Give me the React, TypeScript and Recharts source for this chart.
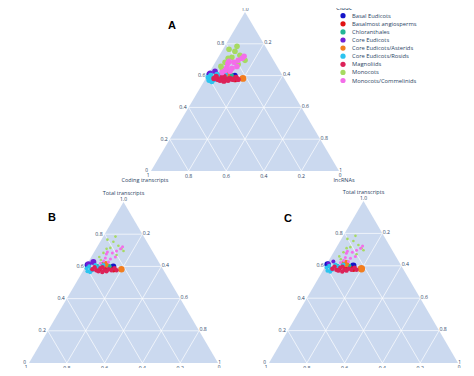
import { ComposedChart, Area, Scatter, XAxis, YAxis, ReferenceLine } from 'recharts'

type Tri = [number, number, number] // [total, coding, lncRNA]

const CLADES = [
  'Basal Eudicots',
  'Basalmost angiosperms',
  'Chloranthales',
  'Core Eudicots',
  'Core Eudicots/Asterids',
  'Core Eudicots/Rosids',
  'Magnoliids',
  'Monocots',
  'Monocots/Commelinids',
]

const basalEudicots: Tri[] = [
  [0.6, 0.254, 0.146],
  [0.608, 0.386, 0.006],
]
const basalmostAngiosperms: Tri[] = [
  [0.582, 0.337, 0.081],
  [0.582, 0.305, 0.113],
  [0.589, 0.274, 0.137],
  [0.576, 0.265, 0.159],
]
const chloranthales: Tri[] = [
  [0.614, 0.305, 0.081],
  [0.608, 0.286, 0.106],
  [0.601, 0.274, 0.125],
  [0.601, 0.338, 0.061],
]
const coreEudicots: Tri[] = [
  [0.627, 0.346, 0.027],
  [0.614, 0.379, 0.007],
]
const asterids: Tri[] = [
  [0.582, 0.22, 0.198],
  [0.614, 0.289, 0.097],
]
const rosids: Tri[] = [
  [0.589, 0.401, 0.01],
  [0.57, 0.406, 0.024],
  [0.601, 0.381, 0.018],
  [0.576, 0.377, 0.047],
  [0.608, 0.345, 0.047],
  [0.595, 0.335, 0.07],
  [0.563, 0.395, 0.042],
  [0.608, 0.302, 0.09],
  [0.583, 0.382, 0.035],
]
const magnoliids: Tri[] = [
  [0.582, 0.374, 0.044],
  [0.576, 0.356, 0.068],
  [0.589, 0.328, 0.083],
  [0.576, 0.313, 0.111],
  [0.582, 0.289, 0.129],
  [0.576, 0.276, 0.148],
  [0.589, 0.253, 0.158],
  [0.57, 0.348, 0.082],
  [0.595, 0.314, 0.091],
  [0.57, 0.305, 0.125],
  [0.595, 0.356, 0.049],
  [0.576, 0.249, 0.175],
  [0.565, 0.33, 0.105],
]
const monocots: Tri[] = [
  [0.785, 0.15, 0.065],
  [0.753, 0.177, 0.07],
  [0.728, 0.163, 0.109],
  [0.715, 0.212, 0.073],
  [0.709, 0.235, 0.056],
  [0.709, 0.156, 0.135],
  [0.684, 0.264, 0.052],
  [0.696, 0.152, 0.152],
  [0.658, 0.299, 0.043],
  [0.671, 0.201, 0.128],
  [0.766, 0.202, 0.032],
  [0.64, 0.3, 0.06],
]
const commelinids: Tri[] = [
  [0.677, 0.252, 0.071],
  [0.684, 0.217, 0.099],
  [0.696, 0.189, 0.115],
  [0.709, 0.161, 0.13],
  [0.652, 0.27, 0.078],
  [0.646, 0.246, 0.108],
  [0.658, 0.214, 0.128],
  [0.633, 0.289, 0.078],
  [0.627, 0.266, 0.107],
  [0.62, 0.312, 0.068],
  [0.722, 0.144, 0.134],
  [0.69, 0.24, 0.07],
]

const CLADE_POINTS = [
  basalEudicots,
  basalmostAngiosperms,
  chloranthales,
  coreEudicots,
  asterids,
  rosids,
  magnoliids,
  monocots,
  commelinids,
]

const TICKS = [0.2, 0.4, 0.6, 0.8]

const COLORS = ['#1414c8', '#e01212', '#22b596', '#6f1fd6', '#f27d1e', '#2cc4ef', '#dc2259', '#a6da62', '#f36ee9']
const TEXT = '#2a3f5f'
const FONT = '"Open Sans", sans-serif'
const BG = '#cbd9ef'

// marker radius per clade, per panel
const RADII: Record<string, number[]> = {
  A: [2.8, 2.8, 2.8, 2.8, 3.4, 2.7, 2.7, 2.8, 2.8],
  B: [3, 2.2, 2.2, 3, 3.2, 2, 2.2, 1.3, 1.5],
  C: [3.2, 2.2, 2, 2, 3.7, 2, 2.2, 1.3, 1.5],
}

const PANELS = [
  { id: 'A', left: 151, right: 339, base: 171, apex: 12, box: [118, 0, 362, 186], letter: [172, 25] },
  { id: 'B', left: 29, right: 218, base: 363, apex: 202, box: [0, 186, 240, 376], letter: [52, 217] },
  { id: 'C', left: 269, right: 458, base: 363, apex: 201, box: [240, 186, 474, 376], letter: [288, 218] },
]

const toXY = ([a, b, c]: Tri) => {
  const s = a + b + c
  return { x: (c + a / 2) / s, y: a / s }
}

const TRIANGLE = [
  { x: 0, y: 0 },
  { x: 0.5, y: 1 },
  { x: 1, y: 0 },
]

const fmt = (v: number) => v.toFixed(1)

type Label = { x: number; y: number; text: string; kind: string }

function buildLabels(): Label[] {
  const out: Label[] = []
  TICKS.forEach((k) => {
    out.push({ x: k / 2, y: k, text: fmt(k), kind: 'a' })
    out.push({ x: 1 - k, y: 0, text: fmt(k), kind: 'b' })
    out.push({ x: k + (1 - k) / 2, y: 1 - k, text: fmt(k), kind: 'c' })
  })
  out.push({ x: 0, y: 0, text: '0', kind: 'bl0' })
  out.push({ x: 0, y: 0, text: '1', kind: 'bl1' })
  out.push({ x: 1, y: 0, text: '1', kind: 'br1' })
  out.push({ x: 1, y: 0, text: '0', kind: 'br0' })
  out.push({ x: 0.5, y: 1, text: '1.0', kind: 'top' })
  out.push({ x: 0.5, y: 1, text: 'Total transcripts', kind: 'title' })
  out.push({ x: 0, y: 0, text: 'Coding transcripts', kind: 'coding' })
  out.push({ x: 1, y: 0, text: 'lncRNAs', kind: 'lnc' })
  return out
}

const LABELS = buildLabels()

const OFFSETS: Record<string, { dx: number; dy: number; anchor: string; size: number }> = {
  a: { dx: -2, dy: -0.5, anchor: 'end', size: 5.2 },
  b: { dx: 0, dy: 5, anchor: 'middle', size: 5.2 },
  c: { dx: 4, dy: -1.5, anchor: 'middle', size: 5.2 },
  bl0: { dx: -4.5, dy: -1.2, anchor: 'middle', size: 4.8 },
  bl1: { dx: -3, dy: 3.6, anchor: 'middle', size: 4.8 },
  br1: { dx: 1.5, dy: -1.2, anchor: 'middle', size: 4.8 },
  br0: { dx: 1, dy: 3.6, anchor: 'middle', size: 4.8 },
  top: { dx: 0, dy: -3, anchor: 'middle', size: 5 },
  title: { dx: 0, dy: -9.5, anchor: 'middle', size: 5.5 },
  coding: { dx: -6, dy: 9.3, anchor: 'middle', size: 5.5 },
  lnc: { dx: 5, dy: 9.3, anchor: 'middle', size: 5.5 },
}

function gridSegments() {
  const segs: { x: number; y: number }[][] = []
  TICKS.forEach((k) => {
    segs.push([{ x: k / 2, y: k }, { x: 1 - k / 2, y: k }])
    segs.push([{ x: k, y: 0 }, { x: k + (1 - k) / 2, y: 1 - k }])
    segs.push([{ x: 1 - k, y: 0 }, { x: (1 - k) / 2, y: 1 - k }])
  })
  return segs
}

const SEGMENTS = gridSegments()

function Panel({ p }: { p: (typeof PANELS)[number] }) {
  const [bx0, by0, bx1, by1] = p.box
  const w = p.right - p.left
  const h = p.base - p.apex
  const xDomain = [(bx0 - p.left) / w, (bx1 - p.left) / w]
  const yDomain = [(p.base - by1) / h, (p.base - by0) / h]
  const radii = RADII[p.id]

  return (
    <div style={{ position: 'absolute', left: bx0, top: by0 }}>
      <ComposedChart width={bx1 - bx0} height={by1 - by0} margin={{ top: 0, right: 0, bottom: 0, left: 0 }}>
        <XAxis type="number" dataKey="x" domain={xDomain} hide allowDataOverflow />
        <YAxis type="number" dataKey="y" domain={yDomain} hide allowDataOverflow />
        <Area
          data={TRIANGLE}
          dataKey="y"
          type="linear"
          fill={BG}
          fillOpacity={1}
          stroke="none"
          baseValue={0}
          isAnimationActive={false}
        />
        {SEGMENTS.map((s, i) => (
          <ReferenceLine key={i} segment={s} stroke="#ffffff" strokeWidth={0.8} strokeOpacity={0.85} />
        ))}
        <Scatter
          data={LABELS}
          isAnimationActive={false}
          shape={(props: any) => {
            const o = OFFSETS[props.payload.kind]
            return (
              <text
                x={props.cx + o.dx}
                y={props.cy + o.dy}
                textAnchor={o.anchor as any}
                dominantBaseline="central"
                fontSize={o.size}
                fontFamily={FONT}
                fill={TEXT}
              >
                {props.payload.text}
              </text>
            )
          }}
        />
        {CLADE_POINTS.map((pts, ci) => (
          <Scatter
            key={CLADES[ci]}
            name={CLADES[ci]}
            data={pts.map(toXY)}
            isAnimationActive={false}
            shape={(props: any) => <circle cx={props.cx} cy={props.cy} r={radii[ci]} fill={COLORS[ci]} />}
          />
        ))}
      </ComposedChart>
      <div
        style={{
          position: 'absolute',
          left: p.letter[0] - bx0,
          top: p.letter[1] - by0,
          transform: 'translate(-50%, -50%)',
          fontFamily: '"Liberation Sans", Arial, sans-serif',
          fontWeight: 700,
          fontSize: 11,
          color: '#000',
        }}
      >
        {p.id}
      </div>
    </div>
  )
}

function CladeLegend() {
  return (
    <svg width={130} height={90} style={{ position: 'absolute', left: 334, top: 0 }}>
      <text x={2} y={7} dominantBaseline="central" fontSize={6.2} fontFamily={FONT} fill={TEXT}>
        Clade
      </text>
      {CLADES.map((c, i) => (
        <g key={c}>
          <circle cx={9} cy={15.7 + i * 8.1} r={2.6} fill={COLORS[i]} />
          <text x={18} y={15.7 + i * 8.1} dominantBaseline="central" fontSize={5.8} fontFamily={FONT} fill={TEXT}>
            {c}
          </text>
        </g>
      ))}
    </svg>
  )
}

export default function App() {
  return (
    <div style={{ position: 'relative', width: 474, height: 376, margin: -8, background: '#fff', overflow: 'hidden' }}>
      {PANELS.map((p) => (
        <Panel key={p.id} p={p} />
      ))}
      <CladeLegend />
    </div>
  )
}
